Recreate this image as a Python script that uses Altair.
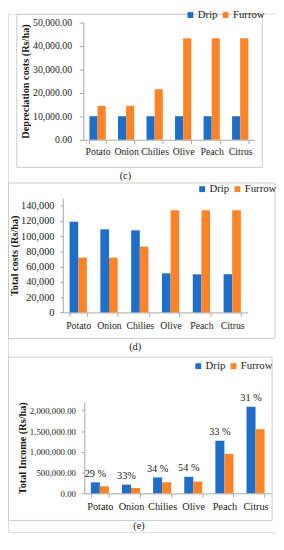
import altair as alt
import pandas as pd

# ---------------- data ----------------
crops = ["Potato", "Onion", "Chilies", "Olive", "Peach", "Citrus"]
systems = ["Drip", "Furrow"]

dep_drip = [10000, 10000, 10000, 10000, 10000, 10000]
dep_furrow = [14400, 14400, 21500, 43200, 43200, 43200]

tot_drip = [118900, 109100, 107800, 51300, 50000, 50200]
tot_furrow = [71900, 71900, 86400, 134000, 134000, 134000]

inc_drip = [265000, 210000, 382000, 399000, 1266000, 2087000]
inc_furrow = [171000, 131000, 265000, 288000, 952000, 1547000]
inc_labels = ["29 %", "33%", "34 %", "54 %", "33 %", "31 %"]

dep_ticks = [0, 10000, 20000, 30000, 40000, 50000]
tot_ticks = [0, 20000, 40000, 60000, 80000, 100000, 120000, 140000]
inc_ticks = [0, 500000, 1000000, 1500000, 2000000]

FONT = "Liberation Serif"
BLUE = "#1f6fc9"
ORANGE = "#ff8328"
AXIS_GRAY = "#a6a6a6"
BOX_GRAY = "#cccccc"
TXT = "#1a1a1a"

W, H = 274, 530          # whole canvas (page x 8..282, y 8..538)
OX, OY = 8, 8            # page offset of the canvas origin


def long_df(drip, furrow):
    rows = []
    for c, d, f in zip(crops, drip, furrow):
        rows.append({"crop": c, "system": "Drip", "value": d})
        rows.append({"crop": c, "system": "Furrow", "value": f})
    return pd.DataFrame(rows)


one = pd.DataFrame({"a": [0]})


def panel(drip, furrow, p):
    ax_x = p["x0"] - OX               # y-axis position in canvas coords
    ax_y = p["y0"] - OY               # x-axis position in canvas coords
    df = long_df(drip, furrow)
    xenc = alt.X(
        "crop:N", sort=crops, title=None,
        scale=alt.Scale(range=[ax_x, p["x1"] - OX], paddingInner=p["pin"], paddingOuter=p["pin"] / 2),
        axis=alt.Axis(orient="bottom", offset=ax_y - H, labelAngle=0, tickBand="extent", tickSize=4,
                      labelPadding=p["xpad"], labelFontSize=p["xfs"], labelFont=FONT, labelColor=TXT,
                      domainColor=AXIS_GRAY, tickColor=AXIS_GRAY, grid=False),
    )
    xoff = alt.XOffset("system:N", scale=alt.Scale(domain=systems, paddingInner=0, paddingOuter=0))
    yenc = alt.Y(
        "value:Q",
        scale=alt.Scale(domain=[0, p["ymax"]], range=[ax_y, p["ytop"] - OY], nice=False, zero=True),
        axis=alt.Axis(orient="left", offset=-ax_x, values=p["ticks"], format=p["fmt"], title=p["title"],
                      grid=False, tickSize=p["ytick"], labelPadding=p["ypad"], labelFontSize=p["yfs"],
                      labelFont=FONT, labelColor=TXT, domainColor=AXIS_GRAY, tickColor=AXIS_GRAY,
                      labelOverlap=False, titleFont=FONT, titleFontSize=10.5, titleFontWeight="bold",
                      titleColor=TXT, titlePadding=p["tpad"]),
    )
    bars = alt.Chart(df).mark_bar().encode(
        x=xenc, xOffset=xoff, y=yenc,
        color=alt.Color("system:N", scale=alt.Scale(domain=systems, range=[BLUE, ORANGE]),
                        legend=alt.Legend(orient="none", legendX=p["legend"][0] - OX,
                                          legendY=p["legend"][1] - OY,
                                          direction="horizontal", title=None, symbolType="square",
                                          symbolSize=36, symbolStrokeWidth=0, labelFont=FONT,
                                          labelFontSize=11, labelColor=TXT, columnPadding=2,
                                          labelOffset=2, padding=0)),
    )
    layers = [bars]
    if "labels" in p:
        ldf = pd.DataFrame({"crop": crops, "system": ["Drip"] * len(crops),
                            "value": drip, "label": p["labels"]})
        txt = alt.Chart(ldf).mark_text(font=FONT, fontSize=10.5, color=TXT, baseline="bottom",
                                       align="center", dy=-4).encode(
            x=xenc, xOffset=xoff, y=yenc, text="label:N")
        layers.append(txt)
    data_layer = alt.layer(*layers)

    bx1, by1, bx2, by2 = p["box"]
    box = alt.Chart(one).mark_rect(fillOpacity=0, stroke=BOX_GRAY, strokeWidth=1).encode(
        x=alt.value(bx1 - OX), x2=alt.value(bx2 - OX), y=alt.value(by1 - OY), y2=alt.value(by2 - OY))
    capx, capy = p["cap_xy"]
    cap = alt.Chart(one).mark_text(text=p["cap"], font=FONT, fontSize=10.5, color=TXT,
                                   align="center", baseline="middle").encode(
        x=alt.value(capx - OX), y=alt.value(capy - OY))
    return [box, cap, data_layer]


# page-pixel layout of each panel: y-axis x (x0), plot right (x1), baseline (y0), top of y domain (ytop)
pc = dict(x0=85, x1=260, y0=136.7, ytop=16.7, ymax=50000, ticks=dep_ticks, fmt=",.2f",
          title="Depreciation costs (Rs/ha)", tpad=2,
          yfs=10, ytick=4, ypad=8, xfs=10, xpad=3, pin=0.43,
          legend=(189, 3.5), cap="(c)", cap_xy=(128, 174),
          box=(17, 8.5, 268, 165))

pd_ = dict(x0=64, x1=253, y0=313.3, ytop=196.5, ymax=150000, ticks=tot_ticks, fmt=",.0f",
           title="Total costs (Rs/ha)", tpad=1,
           yfs=10.5, ytick=3, ypad=6, xfs=10, xpad=4, pin=0.44,
           legend=(201, 181.5), cap="(d)", cap_xy=(138, 349),
           box=(8.5, 181, 281, 340))

pe = dict(x0=86, x1=277, y0=498.3, ytop=405, ymax=2200000, ticks=inc_ticks, fmt=",.2f",
          title="Total Income (Rs/ha)", tpad=2,
          yfs=9, ytick=3, ypad=6, xfs=10.5, xpad=5, pin=0.42,
          legend=(197, 362.5), cap="(e)", cap_xy=(142, 532),
          box=(8.5, 359, 278, 526), labels=inc_labels)

parts = (panel(dep_drip, dep_furrow, pc) + panel(tot_drip, tot_furrow, pd_)
         + panel(inc_drip, inc_furrow, pe))

chart = alt.layer(*parts).resolve_scale(
    x="independent", y="independent", color="independent", xOffset="independent"
).resolve_axis(x="independent", y="independent").resolve_legend(color="independent").properties(
    width=W, height=H, padding=0, autosize=alt.AutoSizeParams(type="none")
).configure_view(stroke=None).configure(font=FONT)

chart.save("out.html", embed_options={"renderer": "svg", "actions": False})
